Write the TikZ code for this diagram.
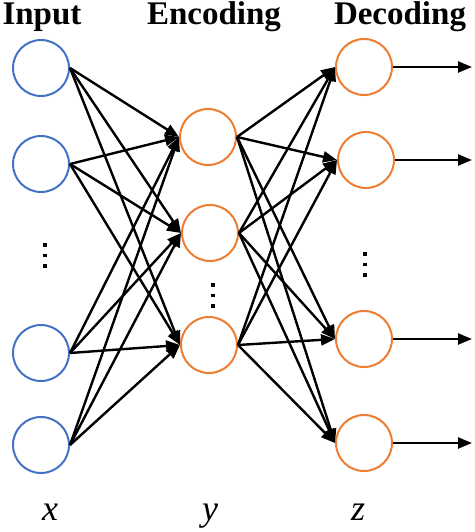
\documentclass[tikz,border=0pt]{standalone}
\usepackage{fontspec}
\setmainfont{Liberation Serif}
\usetikzlibrary{arrows.meta}
\definecolor{inblue}{RGB}{68,114,196}
\definecolor{outorange}{RGB}{237,125,49}
\begin{document}
\begin{tikzpicture}[x=1pt,y=-1pt,
 neuron/.style={circle,draw,line width=2pt,minimum size=56pt,inner sep=0pt},
 inneuron/.style={neuron,draw=inblue},
 hidneuron/.style={neuron,draw=outorange},
 conn/.style={line width=2.4pt,-{Triangle[length=14pt,width=11pt]}},
 title/.style={font=\bfseries\fontsize{33}{33}\selectfont,anchor=base,inner sep=0pt},
 var/.style={font=\itshape\fontsize{36}{36}\selectfont,anchor=base,inner sep=0pt},
 dotmark/.style={rectangle,fill,inner sep=0pt,minimum size=3.5pt}]
\useasboundingbox (0,0) rectangle (474,532);
% titles
\node[title] (tin) at (42,25) {Input};
\node[title] (tenc) at (214,25) {Encoding};
\node[title] (tdec) at (400,25) {Decoding};
% input layer
\node[inneuron] (I1) at (41,68) {};
\node[inneuron] (I2) at (41,164) {};
\node[inneuron] (I3) at (41,353) {};
\node[inneuron] (I4) at (41,445) {};
% encoding layer
\node[hidneuron] (E1) at (208,137) {};
\node[hidneuron] (E2) at (210,233) {};
\node[hidneuron] (E3) at (209,345) {};
% decoding layer
\node[hidneuron] (D1) at (364,67) {};
\node[hidneuron] (D2) at (366,160) {};
\node[hidneuron] (D3) at (364,339) {};
\node[hidneuron] (D4) at (364,443) {};
% dots
\node[dotmark] (da1) at (45,245) {};
\node[dotmark] (da2) at (45,255.5) {};
\node[dotmark] (da3) at (45,266) {};
\node[dotmark] (db1) at (213,285) {};
\node[dotmark] (db2) at (213,295.5) {};
\node[dotmark] (db3) at (213,306) {};
\node[dotmark] (dc1) at (365,254) {};
\node[dotmark] (dc2) at (365,264.5) {};
\node[dotmark] (dc3) at (365,275) {};
% connections
\foreach \i in {I1,I2,I3,I4}
  \foreach \e in {E1,E2,E3}
    \draw[conn] (\i.east) -- (\e.west);
\foreach \e in {E1,E2,E3}
  \foreach \d in {D1,D2,D3,D4}
    \draw[conn] (\e.east) -- (\d.west);
% outputs
\coordinate (o1) at (472,67);
\coordinate (o2) at (472,160);
\coordinate (o3) at (472,339);
\coordinate (o4) at (472,443);
\draw[conn] (D1.east) -- (o1);
\draw[conn] (D2.east) -- (o2);
\draw[conn] (D3.east) -- (o3);
\draw[conn] (D4.east) -- (o4);
% variables
\node[var] (vx) at (50,520) {x};
\node[var] (vy) at (210,520) {y};
\node[var] (vz) at (358,520) {z};
\end{tikzpicture}
\end{document}
